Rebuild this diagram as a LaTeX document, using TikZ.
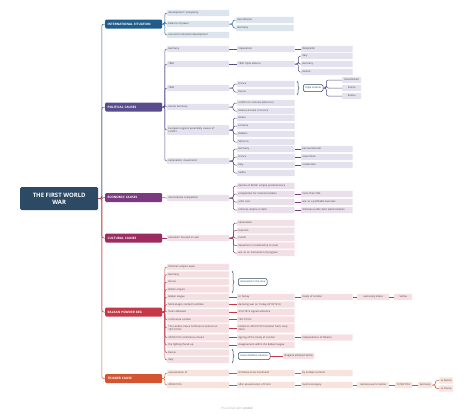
\documentclass[tikz,border=0pt]{standalone}
\usepackage{fontspec}
\setmainfont{Open Sans}
\usepackage{tikz}
\usetikzlibrary{decorations.pathreplacing}

\definecolor{wwiC}{RGB}{44,74,99}
\definecolor{intlC}{RGB}{31,92,140}
\definecolor{intlF}{RGB}{220,228,237}
\definecolor{polC}{RGB}{88,76,140}
\definecolor{polF}{RGB}{228,226,238}
\definecolor{ecoC}{RGB}{123,58,127}
\definecolor{ecoF}{RGB}{234,224,235}
\definecolor{culC}{RGB}{156,44,96}
\definecolor{culF}{RGB}{242,224,231}
\definecolor{balC}{RGB}{196,56,72}
\definecolor{balF}{RGB}{246,223,226}
\definecolor{trgC}{RGB}{210,84,48}
\definecolor{trgF}{RGB}{248,228,221}
\definecolor{leafTxt}{RGB}{60,60,60}

\tikzset{
  box/.style={anchor=west, rounded corners=0.6pt, inner xsep=1.2pt, inner ysep=0pt, minimum height=6.4pt, font=\fontsize{2.5}{3}\selectfont, text=leafTxt, align=left},
  wa/.style={text width=59.6pt},
  wb/.style={text width=55.1pt},
  wc/.style={text width=49.1pt},
  tag/.style={anchor=west, rounded corners=0.6pt, inner xsep=1.5pt, inner ysep=0pt, minimum height=6.4pt, font=\fontsize{2.5}{3}\selectfont, text=leafTxt},
  topic/.style={anchor=west, rounded corners=1.2pt, text width=52pt, inner xsep=2.5pt, inner ysep=0pt, minimum height=9pt, align=left, font=\fontsize{3.1}{3.6}\selectfont\bfseries, text=white},
  conn/.style={line width=0.5pt, rounded corners=2pt},
  summ/.style={anchor=west, draw=wwiC, line width=0.5pt, fill=white, rounded corners=1.5pt, inner xsep=2pt, inner ysep=0pt, minimum height=7pt, font=\fontsize{2.5}{3}\selectfont, text=leafTxt},
  tie/.style={decorate, decoration={brace, amplitude=2pt}, line width=0.5pt},
}

\begin{document}
\begin{tikzpicture}[x=1pt,y=-1pt]
    \useasboundingbox (0,0) rectangle (474,416);

    % Central Topic
    \node[anchor=west, fill=wwiC, rounded corners=1.5pt, minimum width=78pt, minimum height=23pt, inner sep=0pt, text=white, align=center, font=\fontsize{6}{7.2}\selectfont\bfseries] (wwi) at (20,198.5) {THE FIRST WORLD\\WAR};

    % Main Topics
    \node[topic, fill=intlC] (intl) at (105,24) {INTERNATIONAL SITUATION};
    \node[topic, fill=polC] (pol) at (105,107) {POLITICAL CAUSES};
    \node[topic, fill=ecoC] (eco) at (105,197.5) {ECONOMIC CAUSES};
    \node[topic, fill=culC] (cul) at (105,238) {CULTURAL CAUSES};
    \node[topic, fill=balC] (bal) at (105,312) {BALKAN POWDER KEG};
    \node[topic, fill=trgC] (trg) at (105,378.5) {TRIGGER CAUSE};

    \draw[conn, intlC] (wwi.east) -- ++(3.5,0) |- (intl.west);
    \draw[conn, polC] (wwi.east) -- ++(3.5,0) |- (pol.west);
    \draw[conn, ecoC] (wwi.east) -- ++(3.5,0) |- (eco.west);
    \draw[conn, culC] (wwi.east) -- ++(3.5,0) |- (cul.west);
    \draw[conn, balC] (wwi.east) -- ++(3.5,0) |- (bal.west);
    \draw[conn, trgC] (wwi.east) -- ++(3.5,0) |- (trg.west);

    % International situation
    \node[box, wa, fill=intlF] (i1) at (167,13) {development / prosperity};
    \node[box, wa, fill=intlF] (i2) at (167,24) {balance of power};
    \node[box, wa, fill=intlF] (i3) at (167,35) {economic industrial development};
    \node[box, wb, fill=intlF] (i2a) at (236,20) {dual alliance};
    \node[box, wb, fill=intlF] (i2b) at (236,28) {Germany};
    \draw[conn, intlC] (intl.east) -- ++(2.5,0) |- (i1.west);
    \draw[conn, intlC] (intl.east) -- ++(2.5,0) |- (i2.west);
    \draw[conn, intlC] (intl.east) -- ++(2.5,0) |- (i3.west);
    \draw[conn, intlC] (i2.east) -- ++(3.5,0) |- (i2a.west);
    \draw[conn, intlC] (i2.east) -- ++(3.5,0) |- (i2b.west);

    % Political causes
    \node[box, wa, fill=polF] (p1) at (167,49) {Germany};
    \node[box, wb, fill=polF] (p1a) at (237,49) {imperialism};
    \node[box, wc, fill=polF] (p1b) at (301,49) {Weltpolitik};
    \node[box, wa, fill=polF] (p2) at (167,64) {1882};
    \node[box, wb, fill=polF] (p2a) at (237,64) {1882 triple alliance};
    \node[box, wc, fill=polF] (p2b) at (301,56) {Italy};
    \node[box, wc, fill=polF] (p2c) at (301,64) {Germany};
    \node[box, wc, fill=polF] (p2d) at (301,72) {Austria};
    \node[box, wa, fill=polF] (p3) at (167,88) {1894};
    \node[box, wb, fill=polF] (p3a) at (237,84) {France};
    \node[box, wb, fill=polF] (p3b) at (237,92) {Russia};
    \node[summ] (p3s) at (303,88) {triple entente};
    \node[tag, fill=polF, minimum width=19pt] (p3c) at (342,80) {Great Britain};
    \node[tag, fill=polF, minimum width=19pt] (p3d) at (342,88) {France};
    \node[tag, fill=polF, minimum width=19pt] (p3e) at (342,96) {Russia};
    \node[box, wa, fill=polF] (p4) at (167,107) {isolate Germany};
    \node[box, wb, fill=polF] (p4a) at (237,103) {conflict on colonies (Morocco)};
    \node[box, wb, fill=polF] (p4b) at (237,111) {Alsace-Lorraine to France};
    \node[box, wa, fill=polF, minimum height=10pt] (p5) at (167,130) {European regions potentially causes of\\conflict};
    \node[box, wb, fill=polF] (p5a) at (237,118) {Alsace};
    \node[box, wb, fill=polF] (p5b) at (237,126) {Lorraine};
    \node[box, wb, fill=polF] (p5c) at (237,134) {Balkans};
    \node[box, wb, fill=polF] (p5d) at (237,142) {Morocco};
    \node[box, wa, fill=polF] (p6) at (167,161) {nationalistic movements};
    \node[box, wb, fill=polF] (p6a) at (237,149) {Germany};
    \node[box, wb, fill=polF] (p6b) at (237,157) {France};
    \node[box, wb, fill=polF] (p6c) at (237,165) {Italy};
    \node[box, wb, fill=polF] (p6d) at (237,173) {Serbia};
    \node[box, wc, fill=polF] (p6e) at (301,149) {pan-Germanism};
    \node[box, wc, fill=polF] (p6f) at (301,157) {revanchism};
    \node[box, wc, fill=polF] (p6g) at (301,165) {irredentism};
    \foreach \c in {p1,p2,p3,p4,p5,p6}
      \draw[conn, polC] (pol.east) -- ++(2.5,0) |- (\c.west);
    \draw[conn, polC] (p1.east) -- (p1a.west);
    \draw[conn, polC] (p1a.east) -- (p1b.west);
    \draw[conn, polC] (p2.east) -- (p2a.west);
    \draw[conn, polC] (p2a.east) -- ++(3.5,0) |- (p2b.west);
    \draw[conn, polC] (p2a.east) -- ++(3.5,0) |- (p2c.west);
    \draw[conn, polC] (p2a.east) -- ++(3.5,0) |- (p2d.west);
    \draw[conn, polC] (p3.east) -- ++(4,0) |- (p3a.west);
    \draw[conn, polC] (p3.east) -- ++(4,0) |- (p3b.west);
    \draw[tie, wwiC] (297,81) -- (297,95);
    \draw[conn, polC] (p3s.east) -- ++(3,0) |- (p3c.west);
    \draw[conn, polC] (p3s.east) -- ++(3,0) |- (p3d.west);
    \draw[conn, polC] (p3s.east) -- ++(3,0) |- (p3e.west);
    \draw[conn, polC] (p4.east) -- ++(4,0) |- (p4a.west);
    \draw[conn, polC] (p4.east) -- ++(4,0) |- (p4b.west);
    \foreach \c in {p5a,p5b,p5c,p5d}
      \draw[conn, polC] (p5.east) -- ++(4,0) |- (\c.west);
    \foreach \c in {p6a,p6b,p6c,p6d}
      \draw[conn, polC] (p6.east) -- ++(4,0) |- (\c.west);
    \draw[conn, polC] (p6a.east) -- (p6e.west);
    \draw[conn, polC] (p6b.east) -- (p6f.west);
    \draw[conn, polC] (p6c.east) -- (p6g.west);

    % Economic causes
    \node[box, wa, fill=ecoF] (e1) at (167,198) {international competition};
    \node[box, wb, fill=ecoF] (e1a) at (237,186) {decline of British empire predominance};
    \node[box, wb, fill=ecoF] (e1b) at (237,194) {competition for colonial markets};
    \node[box, wb, fill=ecoF] (e1c) at (237,202) {arms race};
    \node[box, wb, fill=ecoF] (e1d) at (237,210) {ottoman empire in debt};
    \node[box, wc, fill=ecoF] (e1e) at (301,194) {more than 50\%};
    \node[box, wc, fill=ecoF] (e1f) at (301,202) {war as a profitable business};
    \node[box, wc, fill=ecoF] (e1g) at (301,210) {Ottoman public debt administration};
    \draw[conn, ecoC] (eco.east) -- (e1.west);
    \foreach \c in {e1a,e1b,e1c,e1d}
      \draw[conn, ecoC] (e1.east) -- ++(4,0) |- (\c.west);
    \draw[conn, ecoC] (e1b.east) -- (e1e.west);
    \draw[conn, ecoC] (e1c.east) -- (e1f.west);
    \draw[conn, ecoC] (e1d.east) -- (e1g.west);

    % Cultural causes
    \node[box, wa, fill=culF] (c1) at (167,238) {education focused on war};
    \node[box, wb, fill=culF] (c1a) at (237,223) {nationalism};
    \node[box, wb, fill=culF] (c1b) at (237,230.5) {futurism};
    \node[box, wb, fill=culF] (c1c) at (237,238) {racism};
    \node[box, wb, fill=culF] (c1d) at (237,245.5) {darwinism in relationship to state};
    \node[box, wb, fill=culF] (c1e) at (237,253) {war as an instrument of progress};
    \draw[conn, culC] (cul.east) -- (c1.west);
    \foreach \c in {c1a,c1b,c1c,c1d,c1e}
      \draw[conn, culC] (c1.east) -- ++(4,0) |- (\c.west);

    % Balkan powder keg
    \node[box, wa, fill=balF] (b1) at (167,267) {Ottoman empire weak};
    \node[box, wa, fill=balF] (b2) at (167,274.5) {Germany};
    \node[box, wa, fill=balF] (b3) at (167,282) {Russia};
    \node[box, wa, fill=balF] (b4) at (167,289.5) {British empire};
    \node[summ] (b4s) at (238,282) {interested in the area};
    \node[box, wa, fill=balF] (b5) at (167,297) {Balkan league};
    \node[box, wb, fill=balF] (b5a) at (237,297) {vs Turkey};
    \node[box, wc, fill=balF] (b5b) at (301,297) {treaty of London};
    \node[tag, fill=balF, minimum width=32pt] (b5c) at (357,297) {autonomy states};
    \node[tag, fill=balF, minimum width=18pt] (b5d) at (394,297) {Serbia};
    \node[box, wa, fill=balF] (b6) at (167,304.5) {Montenegro started hostilities};
    \node[box, wb, fill=balF] (b6a) at (237,304.5) {declaring war on Turkey (8/10/1912)};
    \node[box, wa, fill=balF] (b7) at (167,312) {Turks defeated};
    \node[box, wb, fill=balF] (b7a) at (237,312) {3/12/1912 signed armistice};
    \node[box, wa, fill=balF] (b8) at (167,319.5) {conference London};
    \node[box, wb, fill=balF] (b8a) at (237,319.5) {16/12/1912};
    \node[box, wa, fill=balF, minimum height=9pt] (b9) at (167,328) {The London Peace Conference started on\\16/12/1912};
    \node[box, wb, fill=balF, minimum height=9pt] (b9a) at (237,328) {ended on 23/01/1913 Istanbul Turks coup\\d'état};
    \node[box, wa, fill=balF] (b10) at (167,337.5) {30/05/1913 conference closed};
    \node[box, wb, fill=balF] (b10a) at (237,337.5) {signing of the treaty of London};
    \node[box, wc, fill=balF] (b10b) at (301,337.5) {independence of Albania};
    \node[box, wa, fill=balF] (b11) at (167,345) {the fighting flared up};
    \node[box, wb, fill=balF] (b11a) at (237,345) {disagreement within the Balkan league};
    \node[box, wa, fill=balF] (b12) at (167,352.5) {Russia};
    \node[box, wa, fill=balF] (b13) at (167,360) {Italy};
    \node[summ] (b13s) at (238,356) {Second Balkan situation};
    \node[tag, fill=balF] (b13a) at (283,356) {Bulgaria attacked Serbia};
    \foreach \c in {b1,b2,b3,b4,b5,b6,b7,b8,b9,b10,b11,b12,b13}
      \draw[conn, balC] (bal.east) -- ++(2.5,0) |- (\c.west);
    \draw[tie, wwiC] (232,271) -- (232,293);
    \draw[tie, wwiC] (232,349) -- (232,363);
    \draw[conn, balC] (b5.east) -- (b5a.west);
    \draw[conn, balC] (b5a.east) -- (b5b.west);
    \draw[conn, balC] (b5b.east) -- (b5c.west);
    \draw[conn, balC] (b5c.east) -- (b5d.west);
    \draw[conn, balC] (b6.east) -- (b6a.west);
    \draw[conn, balC] (b7.east) -- (b7a.west);
    \draw[conn, balC] (b8.east) -- (b8a.west);
    \draw[conn, balC] (b9.east) -- (b9a.west);
    \draw[conn, balC] (b10.east) -- (b10a.west);
    \draw[conn, balC] (b10a.east) -- (b10b.west);
    \draw[conn, balC] (b11.east) -- (b11a.west);
    \draw[conn, balC] (b13s.east) -- (b13a.west);

    % Trigger cause
    \node[box, wa, fill=trgF] (t1) at (167,373) {assassination of};
    \node[box, wb, fill=trgF] (t1a) at (237,373) {Archduke Franz Ferdinand};
    \node[box, wc, fill=trgF] (t1b) at (301,373) {by Serbian terrorist};
    \node[box, wa, fill=trgF] (t2) at (167,385) {28/06/1914};
    \node[box, wb, fill=trgF] (t2a) at (237,385) {after assassination of Franz};
    \node[box, wc, fill=trgF] (t2b) at (301,385) {Austria-Hungary};
    \node[tag, fill=trgF, minimum width=32pt] (t2c) at (357,385) {declares war to Serbia};
    \node[tag, fill=trgF, minimum width=17pt] (t2d) at (395,385) {01/08/1914};
    \node[tag, fill=trgF, minimum width=14pt] (t2e) at (418,385) {Germany};
    \node[tag, fill=trgF, minimum width=14pt] (t2f) at (439,380.5) {vs Russia};
    \node[tag, fill=trgF, minimum width=14pt] (t2g) at (439,388.5) {vs France};
    \draw[conn, trgC] (trg.east) -- ++(2.5,0) |- (t1.west);
    \draw[conn, trgC] (trg.east) -- ++(2.5,0) |- (t2.west);
    \draw[conn, trgC] (t1.east) -- (t1a.west);
    \draw[conn, trgC] (t1a.east) -- (t1b.west);
    \draw[conn, trgC] (t2.east) -- (t2a.west);
    \draw[conn, trgC] (t2a.east) -- (t2b.west);
    \draw[conn, trgC] (t2b.east) -- (t2c.west);
    \draw[conn, trgC] (t2c.east) -- (t2d.west);
    \draw[conn, trgC] (t2d.east) -- (t2e.west);
    \draw[conn, trgC] (t2e.east) -- ++(3,0) |- (t2f.west);
    \draw[conn, trgC] (t2e.east) -- ++(3,0) |- (t2g.west);

    % Text Node
    \node[font=\fontsize{3}{3.5}\selectfont, text=black!30] (credit) at (237,408) {Presented with \textbf{xmind}};
\end{tikzpicture}
\end{document}
